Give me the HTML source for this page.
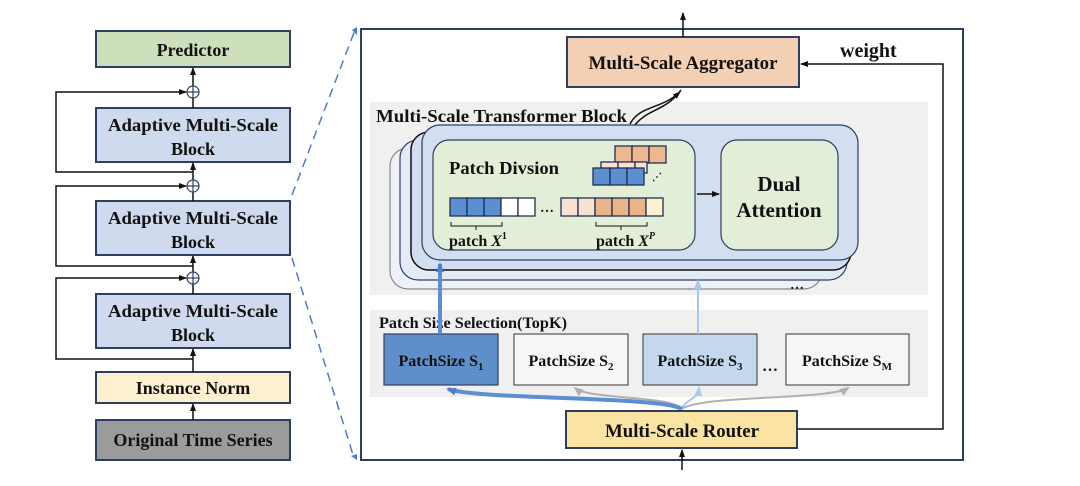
<!DOCTYPE html>
<html><head><meta charset="utf-8"><style>
body{margin:0;width:1080px;height:481px;background:#fff;overflow:hidden}
svg text{font-family:"Liberation Serif",serif;font-weight:bold;fill:#111}
</style></head><body>
<svg width="1080" height="481" viewBox="0 0 1080 481" xmlns="http://www.w3.org/2000/svg">
<defs>
<marker id="a" markerWidth="8" markerHeight="8" refX="7" refY="4" orient="auto" markerUnits="userSpaceOnUse"><path d="M0,1 L8,4 L0,7 z" fill="#111"/></marker>
<marker id="ab" markerWidth="10" markerHeight="10" refX="8" refY="5" orient="auto" markerUnits="userSpaceOnUse"><path d="M0,1 L10,5 L0,9 z" fill="#4a80d0"/></marker>
<marker id="abl" markerWidth="10" markerHeight="10" refX="8" refY="5" orient="auto" markerUnits="userSpaceOnUse"><path d="M0,1 L10,5 L0,9 z" fill="#a9c8ea"/></marker>
<marker id="ag" markerWidth="10" markerHeight="10" refX="8" refY="5" orient="auto" markerUnits="userSpaceOnUse"><path d="M0,1 L10,5 L0,9 z" fill="#b0b0b0"/></marker>
</defs>
<g stroke="#2d3e63" stroke-width="2">
<rect x="96" y="31" width="194" height="36" fill="#cde0bb"/>
<rect x="96" y="108" width="194" height="54" fill="#cfdaee"/>
<rect x="96" y="201" width="194" height="54" fill="#cfdaee"/>
<rect x="96" y="294" width="194" height="54" fill="#cfdaee"/>
<rect x="96" y="372" width="194" height="31" fill="#fcf0cf"/>
<rect x="96" y="420" width="194" height="40" fill="#9b9b9b"/>
</g>
<g font-size="18" text-anchor="middle">
<text x="193" y="56">Predictor</text>
<text x="193" y="131" textLength="170" lengthAdjust="spacingAndGlyphs">Adaptive Multi-Scale</text><text x="193" y="155">Block</text>
<text x="193" y="224" textLength="170" lengthAdjust="spacingAndGlyphs">Adaptive Multi-Scale</text><text x="193" y="248">Block</text>
<text x="193" y="317" textLength="170" lengthAdjust="spacingAndGlyphs">Adaptive Multi-Scale</text><text x="193" y="341">Block</text>
<text x="193" y="394">Instance Norm</text>
<text x="193" y="446">Original Time Series</text>
</g>
<g stroke="#111" stroke-width="1.5" fill="none">
<line x1="193" y1="420" x2="193" y2="404" marker-end="url(#a)"/>
<line x1="193" y1="372" x2="193" y2="349" marker-end="url(#a)"/>
<line x1="193" y1="294" x2="193" y2="284"/>
<line x1="193" y1="272" x2="193" y2="256" marker-end="url(#a)"/>
<line x1="193" y1="201" x2="193" y2="192"/>
<line x1="193" y1="180" x2="193" y2="163" marker-end="url(#a)"/>
<line x1="193" y1="108" x2="193" y2="98"/>
<line x1="193" y1="86" x2="193" y2="68" marker-end="url(#a)"/>
<polyline points="193,359 56,359 56,278 186,278" marker-end="url(#a)"/>
<polyline points="193,266 56,266 56,186 186,186" marker-end="url(#a)"/>
<polyline points="193,172 56,172 56,92 186,92" marker-end="url(#a)"/>
</g>
<g stroke="#2d3e63" stroke-width="1.2" fill="none">
<circle cx="193" cy="278" r="6"/><line x1="187" y1="278" x2="199" y2="278"/><line x1="193" y1="272" x2="193" y2="284"/>
<circle cx="193" cy="186" r="6"/><line x1="187" y1="186" x2="199" y2="186"/><line x1="193" y1="180" x2="193" y2="192"/>
<circle cx="193" cy="92" r="6"/><line x1="187" y1="92" x2="199" y2="92"/><line x1="193" y1="86" x2="193" y2="98"/>
</g>
<g stroke="#4a7bd0" stroke-width="1.5" stroke-dasharray="9,6" fill="none">
<line x1="292" y1="195" x2="355" y2="30"/>
<line x1="292" y1="258" x2="354" y2="458"/>
</g>
<path d="M352,30 l5,-3 l0,8z" fill="#4a7bd0"/>
<path d="M357,460 l-6,-4 l6,-2z" fill="#4a7bd0"/>
<rect x="361" y="29" width="602" height="431" fill="none" stroke="#2d3e63" stroke-width="2"/>
<rect x="370" y="102" width="558" height="193" fill="#f0f0f0"/>
<rect x="370" y="310" width="558" height="87" fill="#f0f0f0"/>
<rect x="567" y="37" width="232" height="50" fill="#f3cfb4" stroke="#2d3e63" stroke-width="2"/>
<text x="683" y="69" font-size="19" text-anchor="middle" textLength="189" lengthAdjust="spacingAndGlyphs">Multi-Scale Aggregator</text>
<text x="840" y="57" font-size="20">weight</text>
<g stroke="#111" stroke-width="1.5" fill="none">
<line x1="683" y1="37" x2="683" y2="13" marker-end="url(#a)"/>
<polyline points="797,429 943,429 943,64 801,64" marker-end="url(#a)"/>
<line x1="682" y1="470" x2="682" y2="450" marker-end="url(#a)"/>
<path d="M630,124 C640,105 660,110 680,92" marker-end="url(#a)"/>
<path d="M634,126 C648,108 665,112 681,90"/>
</g>
<text x="376" y="122" font-size="18" textLength="251" lengthAdjust="spacingAndGlyphs">Multi-Scale Transformer Block</text>
<rect x="390" y="148" width="432" height="141" rx="18" fill="#eef2f8" stroke="#888" stroke-width="1.2"/>
<rect x="400" y="140" width="447" height="140" rx="18" fill="#e3ebf7" stroke="#2d3e63" stroke-width="1.2"/>
<rect x="411" y="132" width="440" height="138" rx="18" fill="#d3def0" stroke="#111" stroke-width="1.5"/>
<rect x="422" y="125" width="436" height="135" rx="18" fill="#d3def0" stroke="#2d3e63" stroke-width="1.2"/>
<text x="790" y="289" font-size="14">…</text>
<rect x="433" y="140" width="262" height="110" rx="16" fill="#e2eed8" stroke="#2d3e63" stroke-width="1.2"/>
<rect x="721" y="140" width="117" height="110" rx="16" fill="#e2eed8" stroke="#2d3e63" stroke-width="1.2"/>
<text x="779" y="191" font-size="21" text-anchor="middle">Dual</text>
<text x="779" y="217" font-size="21" text-anchor="middle">Attention</text>
<line x1="697" y1="194" x2="719" y2="194" stroke="#111" stroke-width="1.5" marker-end="url(#a)"/>
<text x="449" y="174" font-size="18" textLength="110" lengthAdjust="spacingAndGlyphs">Patch Divsion</text>
<g stroke="#1f3050" stroke-width="1.3">
<rect x="615" y="146" width="17" height="17" fill="#edb88e"/><rect x="632" y="146" width="17" height="17" fill="#edb88e"/><rect x="649" y="146" width="17" height="17" fill="#edb88e"/>
<rect x="601" y="162" width="17" height="11" fill="#f8e3d3"/><rect x="618" y="162" width="17" height="11" fill="#f8e3d3"/><rect x="635" y="162" width="12" height="11" fill="#f8e3d3"/>
<rect x="593" y="168" width="17" height="17" fill="#5b8fd0"/><rect x="610" y="168" width="17" height="17" fill="#5b8fd0"/><rect x="627" y="168" width="17" height="17" fill="#5b8fd0"/>
<rect x="450" y="198" width="17" height="18" fill="#5b8fd0"/><rect x="467" y="198" width="17" height="18" fill="#5b8fd0"/><rect x="484" y="198" width="17" height="18" fill="#5b8fd0"/>
<rect x="501" y="198" width="17" height="18" fill="#fff"/><rect x="518" y="198" width="17" height="18" fill="#fff"/>
<rect x="561" y="198" width="17" height="18" fill="#f8e3d3"/><rect x="578" y="198" width="17" height="18" fill="#f8e3d3"/>
<rect x="595" y="198" width="17" height="18" fill="#e9b48a"/><rect x="612" y="198" width="17" height="18" fill="#e9b48a"/><rect x="629" y="198" width="17" height="18" fill="#e9b48a"/>
<rect x="646" y="198" width="17" height="18" fill="#fdf2cf"/>
</g>
<text x="540" y="212" font-size="14">…</text>
<text x="652" y="180" font-size="10">⋰</text>
<g stroke="#111" stroke-width="1" fill="none">
<path d="M451,222 v4 h51 v-4 M476,226 v4"/>
<path d="M596,222 v4 h51 v-4 M621,226 v4"/>
</g>
<text x="449" y="246" font-size="16">patch <tspan font-style="italic">X</tspan><tspan font-size="10" dy="-7">1</tspan></text>
<text x="596" y="246" font-size="16">patch <tspan font-style="italic">X</tspan><tspan font-size="10" font-style="italic" dy="-7">P</tspan></text>
<text x="379" y="328" font-size="16" textLength="188" lengthAdjust="spacingAndGlyphs">Patch Size Selection(TopK)</text>
<rect x="384" y="334" width="114" height="51" fill="#5f8fcb" stroke="#2d3e63" stroke-width="1.2"/>
<rect x="514" y="334" width="114" height="51" fill="#f7f7f7" stroke="#333" stroke-width="1"/>
<rect x="643" y="334" width="114" height="51" fill="#c5d8ee" stroke="#333" stroke-width="1"/>
<rect x="786" y="334" width="123" height="51" fill="#f7f7f7" stroke="#333" stroke-width="1"/>
<g font-size="16" text-anchor="middle">
<text x="441" y="366">PatchSize S<tspan font-size="11" dy="4">1</tspan></text>
<text x="571" y="366">PatchSize S<tspan font-size="11" dy="4">2</tspan></text>
<text x="700" y="366">PatchSize S<tspan font-size="11" dy="4">3</tspan></text>
<text x="847" y="366">PatchSize S<tspan font-size="11" dy="4">M</tspan></text>
</g>
<text x="762" y="371" font-size="16">…</text>
<line x1="440" y1="334" x2="440" y2="264" stroke="#5b8fd0" stroke-width="4" marker-end="url(#ab)"/>
<line x1="698" y1="334" x2="698" y2="281" stroke="#a9c8ea" stroke-width="2" marker-end="url(#abl)"/>
<g fill="none">
<path d="M682,409 C670,395 590,400 575,388" stroke="#b0b0b0" stroke-width="2" marker-end="url(#ag)"/>
<path d="M682,409 C700,395 830,400 848,388" stroke="#b0b0b0" stroke-width="2" marker-end="url(#ag)"/>
<path d="M682,409 C684,400 698,400 699,388" stroke="#a9c8ea" stroke-width="2" marker-end="url(#abl)"/>
<path d="M682,409 C660,396 480,400 448,389" stroke="#5b8fd0" stroke-width="4" marker-end="url(#ab)"/>
</g>
<rect x="566" y="411" width="231" height="37" fill="#fbe4a1" stroke="#2d3e63" stroke-width="2"/>
<text x="682" y="437" font-size="19" text-anchor="middle" textLength="154" lengthAdjust="spacingAndGlyphs">Multi-Scale Router</text>
</svg>
</body></html>
